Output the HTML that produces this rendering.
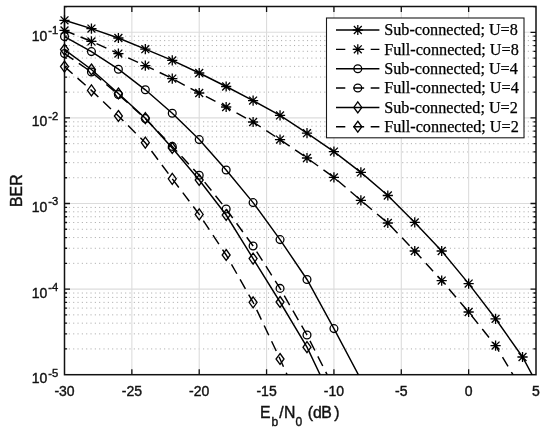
<!DOCTYPE html>
<html><head><meta charset="utf-8"><title>BER</title>
<style>
html,body{margin:0;padding:0;background:#fff;}
body{width:550px;height:432px;overflow:hidden;}
svg{display:block;}
.t{font-family:"Liberation Sans",Arial,sans-serif;fill:#111;stroke:#111;stroke-width:0.4px;}
.lg{font-family:"Liberation Serif","Times New Roman",serif;fill:#000;stroke:#000;stroke-width:0.25px;}
</style></head><body>
<svg width="550" height="432" viewBox="0 0 550 432">
<rect width="550" height="432" fill="#fff"/>
<defs><clipPath id="c"><rect x="64.5" y="6.5" width="471.5" height="368.2"/></clipPath></defs>

<g><line x1="64.5" x2="536.0" y1="348.93" y2="348.93" stroke="#adadad" stroke-width="1" stroke-dasharray="1.1 3.23"/>
<line x1="64.5" x2="536.0" y1="333.86" y2="333.86" stroke="#adadad" stroke-width="1" stroke-dasharray="1.1 3.23"/>
<line x1="64.5" x2="536.0" y1="323.16" y2="323.16" stroke="#adadad" stroke-width="1" stroke-dasharray="1.1 3.23"/>
<line x1="64.5" x2="536.0" y1="314.87" y2="314.87" stroke="#adadad" stroke-width="1" stroke-dasharray="1.1 3.23"/>
<line x1="64.5" x2="536.0" y1="308.09" y2="308.09" stroke="#adadad" stroke-width="1" stroke-dasharray="1.1 3.23"/>
<line x1="64.5" x2="536.0" y1="302.36" y2="302.36" stroke="#adadad" stroke-width="1" stroke-dasharray="1.1 3.23"/>
<line x1="64.5" x2="536.0" y1="297.40" y2="297.40" stroke="#adadad" stroke-width="1" stroke-dasharray="1.1 3.23"/>
<line x1="64.5" x2="536.0" y1="293.02" y2="293.02" stroke="#adadad" stroke-width="1" stroke-dasharray="1.1 3.23"/>
<line x1="64.5" x2="536.0" y1="263.33" y2="263.33" stroke="#adadad" stroke-width="1" stroke-dasharray="1.1 3.23"/>
<line x1="64.5" x2="536.0" y1="248.26" y2="248.26" stroke="#adadad" stroke-width="1" stroke-dasharray="1.1 3.23"/>
<line x1="64.5" x2="536.0" y1="237.56" y2="237.56" stroke="#adadad" stroke-width="1" stroke-dasharray="1.1 3.23"/>
<line x1="64.5" x2="536.0" y1="229.27" y2="229.27" stroke="#adadad" stroke-width="1" stroke-dasharray="1.1 3.23"/>
<line x1="64.5" x2="536.0" y1="222.49" y2="222.49" stroke="#adadad" stroke-width="1" stroke-dasharray="1.1 3.23"/>
<line x1="64.5" x2="536.0" y1="216.76" y2="216.76" stroke="#adadad" stroke-width="1" stroke-dasharray="1.1 3.23"/>
<line x1="64.5" x2="536.0" y1="211.80" y2="211.80" stroke="#adadad" stroke-width="1" stroke-dasharray="1.1 3.23"/>
<line x1="64.5" x2="536.0" y1="207.42" y2="207.42" stroke="#adadad" stroke-width="1" stroke-dasharray="1.1 3.23"/>
<line x1="64.5" x2="536.0" y1="177.73" y2="177.73" stroke="#adadad" stroke-width="1" stroke-dasharray="1.1 3.23"/>
<line x1="64.5" x2="536.0" y1="162.66" y2="162.66" stroke="#adadad" stroke-width="1" stroke-dasharray="1.1 3.23"/>
<line x1="64.5" x2="536.0" y1="151.96" y2="151.96" stroke="#adadad" stroke-width="1" stroke-dasharray="1.1 3.23"/>
<line x1="64.5" x2="536.0" y1="143.67" y2="143.67" stroke="#adadad" stroke-width="1" stroke-dasharray="1.1 3.23"/>
<line x1="64.5" x2="536.0" y1="136.89" y2="136.89" stroke="#adadad" stroke-width="1" stroke-dasharray="1.1 3.23"/>
<line x1="64.5" x2="536.0" y1="131.16" y2="131.16" stroke="#adadad" stroke-width="1" stroke-dasharray="1.1 3.23"/>
<line x1="64.5" x2="536.0" y1="126.20" y2="126.20" stroke="#adadad" stroke-width="1" stroke-dasharray="1.1 3.23"/>
<line x1="64.5" x2="536.0" y1="121.82" y2="121.82" stroke="#adadad" stroke-width="1" stroke-dasharray="1.1 3.23"/>
<line x1="64.5" x2="536.0" y1="92.13" y2="92.13" stroke="#adadad" stroke-width="1" stroke-dasharray="1.1 3.23"/>
<line x1="64.5" x2="536.0" y1="77.06" y2="77.06" stroke="#adadad" stroke-width="1" stroke-dasharray="1.1 3.23"/>
<line x1="64.5" x2="536.0" y1="66.36" y2="66.36" stroke="#adadad" stroke-width="1" stroke-dasharray="1.1 3.23"/>
<line x1="64.5" x2="536.0" y1="58.07" y2="58.07" stroke="#adadad" stroke-width="1" stroke-dasharray="1.1 3.23"/>
<line x1="64.5" x2="536.0" y1="51.29" y2="51.29" stroke="#adadad" stroke-width="1" stroke-dasharray="1.1 3.23"/>
<line x1="64.5" x2="536.0" y1="45.56" y2="45.56" stroke="#adadad" stroke-width="1" stroke-dasharray="1.1 3.23"/>
<line x1="64.5" x2="536.0" y1="40.60" y2="40.60" stroke="#adadad" stroke-width="1" stroke-dasharray="1.1 3.23"/>
<line x1="64.5" x2="536.0" y1="36.22" y2="36.22" stroke="#adadad" stroke-width="1" stroke-dasharray="1.1 3.23"/>
<line x1="64.5" x2="536.0" y1="6.53" y2="6.53" stroke="#adadad" stroke-width="1" stroke-dasharray="1.1 3.23"/>
<line x1="64.5" x2="536.0" y1="289.10" y2="289.10" stroke="#dcdcdc" stroke-width="1.1"/>
<line x1="64.5" x2="536.0" y1="203.50" y2="203.50" stroke="#dcdcdc" stroke-width="1.1"/>
<line x1="64.5" x2="536.0" y1="117.90" y2="117.90" stroke="#dcdcdc" stroke-width="1.1"/>
<line x1="64.5" x2="536.0" y1="32.30" y2="32.30" stroke="#dcdcdc" stroke-width="1.1"/>
<line x1="131.86" x2="131.86" y1="6.5" y2="374.7" stroke="#dcdcdc" stroke-width="1.1"/>
<line x1="199.21" x2="199.21" y1="6.5" y2="374.7" stroke="#dcdcdc" stroke-width="1.1"/>
<line x1="266.57" x2="266.57" y1="6.5" y2="374.7" stroke="#dcdcdc" stroke-width="1.1"/>
<line x1="333.93" x2="333.93" y1="6.5" y2="374.7" stroke="#dcdcdc" stroke-width="1.1"/>
<line x1="401.29" x2="401.29" y1="6.5" y2="374.7" stroke="#dcdcdc" stroke-width="1.1"/>
<line x1="468.64" x2="468.64" y1="6.5" y2="374.7" stroke="#dcdcdc" stroke-width="1.1"/></g>
<path d="M131.86 374.7v-5.5M131.86 6.5v5.5M199.21 374.7v-5.5M199.21 6.5v5.5M266.57 374.7v-5.5M266.57 6.5v5.5M333.93 374.7v-5.5M333.93 6.5v5.5M401.29 374.7v-5.5M401.29 6.5v5.5M468.64 374.7v-5.5M468.64 6.5v5.5M64.5 348.93h2.6M536.0 348.93h-2.6M64.5 333.86h2.6M536.0 333.86h-2.6M64.5 323.16h2.6M536.0 323.16h-2.6M64.5 314.87h2.6M536.0 314.87h-2.6M64.5 308.09h2.6M536.0 308.09h-2.6M64.5 302.36h2.6M536.0 302.36h-2.6M64.5 297.40h2.6M536.0 297.40h-2.6M64.5 293.02h2.6M536.0 293.02h-2.6M64.5 289.10h5.5M536.0 289.10h-5.5M64.5 263.33h2.6M536.0 263.33h-2.6M64.5 248.26h2.6M536.0 248.26h-2.6M64.5 237.56h2.6M536.0 237.56h-2.6M64.5 229.27h2.6M536.0 229.27h-2.6M64.5 222.49h2.6M536.0 222.49h-2.6M64.5 216.76h2.6M536.0 216.76h-2.6M64.5 211.80h2.6M536.0 211.80h-2.6M64.5 207.42h2.6M536.0 207.42h-2.6M64.5 203.50h5.5M536.0 203.50h-5.5M64.5 177.73h2.6M536.0 177.73h-2.6M64.5 162.66h2.6M536.0 162.66h-2.6M64.5 151.96h2.6M536.0 151.96h-2.6M64.5 143.67h2.6M536.0 143.67h-2.6M64.5 136.89h2.6M536.0 136.89h-2.6M64.5 131.16h2.6M536.0 131.16h-2.6M64.5 126.20h2.6M536.0 126.20h-2.6M64.5 121.82h2.6M536.0 121.82h-2.6M64.5 117.90h5.5M536.0 117.90h-5.5M64.5 92.13h2.6M536.0 92.13h-2.6M64.5 77.06h2.6M536.0 77.06h-2.6M64.5 66.36h2.6M536.0 66.36h-2.6M64.5 58.07h2.6M536.0 58.07h-2.6M64.5 51.29h2.6M536.0 51.29h-2.6M64.5 45.56h2.6M536.0 45.56h-2.6M64.5 40.60h2.6M536.0 40.60h-2.6M64.5 36.22h2.6M536.0 36.22h-2.6M64.5 32.30h5.5M536.0 32.30h-5.5M64.5 6.53h2.6M536.0 6.53h-2.6" stroke="#111" stroke-width="1.3" fill="none"/>
<rect x="64.5" y="6.5" width="471.5" height="368.2" fill="none" stroke="#111" stroke-width="1.5"/>
<g clip-path="url(#c)">
<path d="M64.50 20.30L91.44 28.60L118.39 38.00L145.33 49.20L172.27 60.40L199.21 73.00L226.16 86.50L253.10 100.60L280.04 115.40L306.99 133.20L333.93 151.60L360.87 172.40L387.81 195.50L414.76 222.40L441.70 251.00L468.64 283.60L495.59 318.80L522.53 357.00L549.47 407.00" stroke="#000" stroke-width="1.45" fill="none"/>
<path d="M64.50 30.40L91.44 41.40L118.39 53.60L145.33 65.60L172.27 78.60L199.21 93.00L226.16 107.00L253.10 122.00L280.04 139.60L306.99 158.00L333.93 177.40L360.87 200.40L387.81 223.00L414.76 251.00L441.70 280.60L468.64 312.00L495.59 345.60L522.53 390.60" stroke="#000" stroke-width="1.45" fill="none" stroke-dasharray="10.8 6.55"/>
<path d="M64.50 36.60L91.44 51.60L118.39 69.20L145.33 89.80L172.27 113.30L199.21 139.60L226.16 170.00L253.10 202.60L280.04 239.60L306.99 279.50L333.93 328.60L360.87 379.40" stroke="#000" stroke-width="1.45" fill="none"/>
<path d="M64.50 53.60L91.44 72.00L118.39 94.50L145.33 118.60L172.27 146.40L199.21 175.30L226.16 209.00L253.10 246.00L280.04 288.40L306.99 335.00L333.93 388.00" stroke="#000" stroke-width="1.45" fill="none" stroke-dasharray="10.8 6.55"/>
<path d="M64.50 49.60L91.44 69.50L118.39 93.50L145.33 118.20L172.27 148.00L199.21 180.00L226.16 215.00L253.10 258.60L280.04 302.00L306.99 347.20L333.93 403.70" stroke="#000" stroke-width="1.45" fill="none"/>
<path d="M64.50 66.60L91.44 90.40L118.39 116.00L145.33 142.70L172.27 178.80L199.21 214.40L226.16 255.00L253.10 302.30L280.04 359.00L306.99 419.00" stroke="#000" stroke-width="1.45" fill="none" stroke-dasharray="10.8 6.55"/>
</g>
<path d="M59.40 20.30H69.60M64.50 15.20V25.40M60.55 16.35L68.45 24.25M60.55 24.25L68.45 16.35" stroke="#000" stroke-width="1.3" fill="none"/>
<path d="M86.34 28.60H96.54M91.44 23.50V33.70M87.49 24.65L95.39 32.55M87.49 32.55L95.39 24.65" stroke="#000" stroke-width="1.3" fill="none"/>
<path d="M113.29 38.00H123.49M118.39 32.90V43.10M114.44 34.05L122.34 41.95M114.44 41.95L122.34 34.05" stroke="#000" stroke-width="1.3" fill="none"/>
<path d="M140.23 49.20H150.43M145.33 44.10V54.30M141.38 45.25L149.28 53.15M141.38 53.15L149.28 45.25" stroke="#000" stroke-width="1.3" fill="none"/>
<path d="M167.17 60.40H177.37M172.27 55.30V65.50M168.32 56.45L176.22 64.35M168.32 64.35L176.22 56.45" stroke="#000" stroke-width="1.3" fill="none"/>
<path d="M194.11 73.00H204.31M199.21 67.90V78.10M195.26 69.05L203.16 76.95M195.26 76.95L203.16 69.05" stroke="#000" stroke-width="1.3" fill="none"/>
<path d="M221.06 86.50H231.26M226.16 81.40V91.60M222.21 82.55L230.11 90.45M222.21 90.45L230.11 82.55" stroke="#000" stroke-width="1.3" fill="none"/>
<path d="M248.00 100.60H258.20M253.10 95.50V105.70M249.15 96.65L257.05 104.55M249.15 104.55L257.05 96.65" stroke="#000" stroke-width="1.3" fill="none"/>
<path d="M274.94 115.40H285.14M280.04 110.30V120.50M276.09 111.45L283.99 119.35M276.09 119.35L283.99 111.45" stroke="#000" stroke-width="1.3" fill="none"/>
<path d="M301.89 133.20H312.09M306.99 128.10V138.30M303.04 129.25L310.94 137.15M303.04 137.15L310.94 129.25" stroke="#000" stroke-width="1.3" fill="none"/>
<path d="M328.83 151.60H339.03M333.93 146.50V156.70M329.98 147.65L337.88 155.55M329.98 155.55L337.88 147.65" stroke="#000" stroke-width="1.3" fill="none"/>
<path d="M355.77 172.40H365.97M360.87 167.30V177.50M356.92 168.45L364.82 176.35M356.92 176.35L364.82 168.45" stroke="#000" stroke-width="1.3" fill="none"/>
<path d="M382.71 195.50H392.91M387.81 190.40V200.60M383.86 191.55L391.76 199.45M383.86 199.45L391.76 191.55" stroke="#000" stroke-width="1.3" fill="none"/>
<path d="M409.66 222.40H419.86M414.76 217.30V227.50M410.81 218.45L418.71 226.35M410.81 226.35L418.71 218.45" stroke="#000" stroke-width="1.3" fill="none"/>
<path d="M436.60 251.00H446.80M441.70 245.90V256.10M437.75 247.05L445.65 254.95M437.75 254.95L445.65 247.05" stroke="#000" stroke-width="1.3" fill="none"/>
<path d="M463.54 283.60H473.74M468.64 278.50V288.70M464.69 279.65L472.59 287.55M464.69 287.55L472.59 279.65" stroke="#000" stroke-width="1.3" fill="none"/>
<path d="M490.49 318.80H500.69M495.59 313.70V323.90M491.64 314.85L499.54 322.75M491.64 322.75L499.54 314.85" stroke="#000" stroke-width="1.3" fill="none"/>
<path d="M517.43 357.00H527.63M522.53 351.90V362.10M518.58 353.05L526.48 360.95M518.58 360.95L526.48 353.05" stroke="#000" stroke-width="1.3" fill="none"/>
<path d="M59.40 30.40H69.60M64.50 25.30V35.50M60.55 26.45L68.45 34.35M60.55 34.35L68.45 26.45" stroke="#000" stroke-width="1.3" fill="none"/>
<path d="M86.34 41.40H96.54M91.44 36.30V46.50M87.49 37.45L95.39 45.35M87.49 45.35L95.39 37.45" stroke="#000" stroke-width="1.3" fill="none"/>
<path d="M113.29 53.60H123.49M118.39 48.50V58.70M114.44 49.65L122.34 57.55M114.44 57.55L122.34 49.65" stroke="#000" stroke-width="1.3" fill="none"/>
<path d="M140.23 65.60H150.43M145.33 60.50V70.70M141.38 61.65L149.28 69.55M141.38 69.55L149.28 61.65" stroke="#000" stroke-width="1.3" fill="none"/>
<path d="M167.17 78.60H177.37M172.27 73.50V83.70M168.32 74.65L176.22 82.55M168.32 82.55L176.22 74.65" stroke="#000" stroke-width="1.3" fill="none"/>
<path d="M194.11 93.00H204.31M199.21 87.90V98.10M195.26 89.05L203.16 96.95M195.26 96.95L203.16 89.05" stroke="#000" stroke-width="1.3" fill="none"/>
<path d="M221.06 107.00H231.26M226.16 101.90V112.10M222.21 103.05L230.11 110.95M222.21 110.95L230.11 103.05" stroke="#000" stroke-width="1.3" fill="none"/>
<path d="M248.00 122.00H258.20M253.10 116.90V127.10M249.15 118.05L257.05 125.95M249.15 125.95L257.05 118.05" stroke="#000" stroke-width="1.3" fill="none"/>
<path d="M274.94 139.60H285.14M280.04 134.50V144.70M276.09 135.65L283.99 143.55M276.09 143.55L283.99 135.65" stroke="#000" stroke-width="1.3" fill="none"/>
<path d="M301.89 158.00H312.09M306.99 152.90V163.10M303.04 154.05L310.94 161.95M303.04 161.95L310.94 154.05" stroke="#000" stroke-width="1.3" fill="none"/>
<path d="M328.83 177.40H339.03M333.93 172.30V182.50M329.98 173.45L337.88 181.35M329.98 181.35L337.88 173.45" stroke="#000" stroke-width="1.3" fill="none"/>
<path d="M355.77 200.40H365.97M360.87 195.30V205.50M356.92 196.45L364.82 204.35M356.92 204.35L364.82 196.45" stroke="#000" stroke-width="1.3" fill="none"/>
<path d="M382.71 223.00H392.91M387.81 217.90V228.10M383.86 219.05L391.76 226.95M383.86 226.95L391.76 219.05" stroke="#000" stroke-width="1.3" fill="none"/>
<path d="M409.66 251.00H419.86M414.76 245.90V256.10M410.81 247.05L418.71 254.95M410.81 254.95L418.71 247.05" stroke="#000" stroke-width="1.3" fill="none"/>
<path d="M436.60 280.60H446.80M441.70 275.50V285.70M437.75 276.65L445.65 284.55M437.75 284.55L445.65 276.65" stroke="#000" stroke-width="1.3" fill="none"/>
<path d="M463.54 312.00H473.74M468.64 306.90V317.10M464.69 308.05L472.59 315.95M464.69 315.95L472.59 308.05" stroke="#000" stroke-width="1.3" fill="none"/>
<path d="M490.49 345.60H500.69M495.59 340.50V350.70M491.64 341.65L499.54 349.55M491.64 349.55L499.54 341.65" stroke="#000" stroke-width="1.3" fill="none"/>
<circle cx="64.50" cy="36.60" r="3.9" stroke="#000" stroke-width="1.3" fill="none"/>
<circle cx="91.44" cy="51.60" r="3.9" stroke="#000" stroke-width="1.3" fill="none"/>
<circle cx="118.39" cy="69.20" r="3.9" stroke="#000" stroke-width="1.3" fill="none"/>
<circle cx="145.33" cy="89.80" r="3.9" stroke="#000" stroke-width="1.3" fill="none"/>
<circle cx="172.27" cy="113.30" r="3.9" stroke="#000" stroke-width="1.3" fill="none"/>
<circle cx="199.21" cy="139.60" r="3.9" stroke="#000" stroke-width="1.3" fill="none"/>
<circle cx="226.16" cy="170.00" r="3.9" stroke="#000" stroke-width="1.3" fill="none"/>
<circle cx="253.10" cy="202.60" r="3.9" stroke="#000" stroke-width="1.3" fill="none"/>
<circle cx="280.04" cy="239.60" r="3.9" stroke="#000" stroke-width="1.3" fill="none"/>
<circle cx="306.99" cy="279.50" r="3.9" stroke="#000" stroke-width="1.3" fill="none"/>
<circle cx="333.93" cy="328.60" r="3.9" stroke="#000" stroke-width="1.3" fill="none"/>
<circle cx="64.50" cy="53.60" r="3.9" stroke="#000" stroke-width="1.3" fill="none"/>
<circle cx="91.44" cy="72.00" r="3.9" stroke="#000" stroke-width="1.3" fill="none"/>
<circle cx="118.39" cy="94.50" r="3.9" stroke="#000" stroke-width="1.3" fill="none"/>
<circle cx="145.33" cy="118.60" r="3.9" stroke="#000" stroke-width="1.3" fill="none"/>
<circle cx="172.27" cy="146.40" r="3.9" stroke="#000" stroke-width="1.3" fill="none"/>
<circle cx="199.21" cy="175.30" r="3.9" stroke="#000" stroke-width="1.3" fill="none"/>
<circle cx="226.16" cy="209.00" r="3.9" stroke="#000" stroke-width="1.3" fill="none"/>
<circle cx="253.10" cy="246.00" r="3.9" stroke="#000" stroke-width="1.3" fill="none"/>
<circle cx="280.04" cy="288.40" r="3.9" stroke="#000" stroke-width="1.3" fill="none"/>
<circle cx="306.99" cy="335.00" r="3.9" stroke="#000" stroke-width="1.3" fill="none"/>
<path d="M64.50 44.10L68.50 49.60L64.50 55.10L60.50 49.60Z" stroke="#000" stroke-width="1.3" fill="none"/>
<path d="M91.44 64.00L95.44 69.50L91.44 75.00L87.44 69.50Z" stroke="#000" stroke-width="1.3" fill="none"/>
<path d="M118.39 88.00L122.39 93.50L118.39 99.00L114.39 93.50Z" stroke="#000" stroke-width="1.3" fill="none"/>
<path d="M145.33 112.70L149.33 118.20L145.33 123.70L141.33 118.20Z" stroke="#000" stroke-width="1.3" fill="none"/>
<path d="M172.27 142.50L176.27 148.00L172.27 153.50L168.27 148.00Z" stroke="#000" stroke-width="1.3" fill="none"/>
<path d="M199.21 174.50L203.21 180.00L199.21 185.50L195.21 180.00Z" stroke="#000" stroke-width="1.3" fill="none"/>
<path d="M226.16 209.50L230.16 215.00L226.16 220.50L222.16 215.00Z" stroke="#000" stroke-width="1.3" fill="none"/>
<path d="M253.10 253.10L257.10 258.60L253.10 264.10L249.10 258.60Z" stroke="#000" stroke-width="1.3" fill="none"/>
<path d="M280.04 296.50L284.04 302.00L280.04 307.50L276.04 302.00Z" stroke="#000" stroke-width="1.3" fill="none"/>
<path d="M306.99 341.70L310.99 347.20L306.99 352.70L302.99 347.20Z" stroke="#000" stroke-width="1.3" fill="none"/>
<path d="M64.50 61.10L68.50 66.60L64.50 72.10L60.50 66.60Z" stroke="#000" stroke-width="1.3" fill="none"/>
<path d="M91.44 84.90L95.44 90.40L91.44 95.90L87.44 90.40Z" stroke="#000" stroke-width="1.3" fill="none"/>
<path d="M118.39 110.50L122.39 116.00L118.39 121.50L114.39 116.00Z" stroke="#000" stroke-width="1.3" fill="none"/>
<path d="M145.33 137.20L149.33 142.70L145.33 148.20L141.33 142.70Z" stroke="#000" stroke-width="1.3" fill="none"/>
<path d="M172.27 173.30L176.27 178.80L172.27 184.30L168.27 178.80Z" stroke="#000" stroke-width="1.3" fill="none"/>
<path d="M199.21 208.90L203.21 214.40L199.21 219.90L195.21 214.40Z" stroke="#000" stroke-width="1.3" fill="none"/>
<path d="M226.16 249.50L230.16 255.00L226.16 260.50L222.16 255.00Z" stroke="#000" stroke-width="1.3" fill="none"/>
<path d="M253.10 296.80L257.10 302.30L253.10 307.80L249.10 302.30Z" stroke="#000" stroke-width="1.3" fill="none"/>
<path d="M280.04 353.50L284.04 359.00L280.04 364.50L276.04 359.00Z" stroke="#000" stroke-width="1.3" fill="none"/>
<text class="t" x="64.50" y="396" font-size="14" text-anchor="middle">-30</text>
<text class="t" x="131.86" y="396" font-size="14" text-anchor="middle">-25</text>
<text class="t" x="199.21" y="396" font-size="14" text-anchor="middle">-20</text>
<text class="t" x="266.57" y="396" font-size="14" text-anchor="middle">-15</text>
<text class="t" x="333.93" y="396" font-size="14" text-anchor="middle">-10</text>
<text class="t" x="401.29" y="396" font-size="14" text-anchor="middle">-5</text>
<text class="t" x="468.64" y="396" font-size="14" text-anchor="middle">0</text>
<text class="t" x="536.00" y="396" font-size="14" text-anchor="middle">5</text>
<text class="t" x="47.4" y="383.10" font-size="14" text-anchor="end">10</text>
<text class="t" x="48.3" y="376.60" font-size="11.2" text-anchor="start">-5</text>
<text class="t" x="47.4" y="297.50" font-size="14" text-anchor="end">10</text>
<text class="t" x="48.3" y="291.00" font-size="11.2" text-anchor="start">-4</text>
<text class="t" x="47.4" y="211.90" font-size="14" text-anchor="end">10</text>
<text class="t" x="48.3" y="205.40" font-size="11.2" text-anchor="start">-3</text>
<text class="t" x="47.4" y="126.30" font-size="14" text-anchor="end">10</text>
<text class="t" x="48.3" y="119.80" font-size="11.2" text-anchor="start">-2</text>
<text class="t" x="47.4" y="40.70" font-size="14" text-anchor="end">10</text>
<text class="t" x="48.3" y="34.20" font-size="11.2" text-anchor="start">-1</text>
<text class="t" font-size="15.8" y="417.8" x="260.0 279.2 284.0">E/N</text>
<text class="t" font-size="15.8" y="417.8" x="307.7 313.0 321.3 334.2">(dB)</text>
<text class="t" font-size="12" y="425.6" x="271.6">b</text>
<text class="t" font-size="12" y="425.6" x="295.6">0</text>
<text class="t" transform="translate(22.2 190.7) rotate(-90)" font-size="15.8" text-anchor="middle">BER</text>
<rect x="326.5" y="18" width="197.5" height="119.8" fill="#fff" stroke="#1a1a1a" stroke-width="1.1"/>
<path d="M336 30.00H379.4" stroke="#000" stroke-width="1.45" fill="none"/>
<path d="M352.70 30.00H362.90M357.80 24.90V35.10M353.85 26.05L361.75 33.95M353.85 33.95L361.75 26.05" stroke="#000" stroke-width="1.3" fill="none"/>
<text class="lg" x="384.2" y="35.20" font-size="16.2">Sub-connected; U=8</text>
<path d="M336 49.35H379.4" stroke="#000" stroke-width="1.45" fill="none" stroke-dasharray="9.3 8.05 10.8 6.55 10"/>
<path d="M352.70 49.35H362.90M357.80 44.25V54.45M353.85 45.40L361.75 53.30M353.85 53.30L361.75 45.40" stroke="#000" stroke-width="1.3" fill="none"/>
<text class="lg" x="384.2" y="54.55" font-size="16.2">Full-connected; U=8</text>
<path d="M336 68.70H379.4" stroke="#000" stroke-width="1.45" fill="none"/>
<circle cx="357.80" cy="68.70" r="3.9" stroke="#000" stroke-width="1.3" fill="none"/>
<text class="lg" x="384.2" y="73.90" font-size="16.2">Sub-connected; U=4</text>
<path d="M336 88.05H379.4" stroke="#000" stroke-width="1.45" fill="none" stroke-dasharray="9.3 8.05 10.8 6.55 10"/>
<circle cx="357.80" cy="88.05" r="3.9" stroke="#000" stroke-width="1.3" fill="none"/>
<text class="lg" x="384.2" y="93.25" font-size="16.2">Full-connected; U=4</text>
<path d="M336 107.40H379.4" stroke="#000" stroke-width="1.45" fill="none"/>
<path d="M357.80 101.90L361.80 107.40L357.80 112.90L353.80 107.40Z" stroke="#000" stroke-width="1.3" fill="none"/>
<text class="lg" x="384.2" y="112.60" font-size="16.2">Sub-connected; U=2</text>
<path d="M336 126.75H379.4" stroke="#000" stroke-width="1.45" fill="none" stroke-dasharray="9.3 8.05 10.8 6.55 10"/>
<path d="M357.80 121.25L361.80 126.75L357.80 132.25L353.80 126.75Z" stroke="#000" stroke-width="1.3" fill="none"/>
<text class="lg" x="384.2" y="131.95" font-size="16.2">Full-connected; U=2</text>
</svg></body></html>
